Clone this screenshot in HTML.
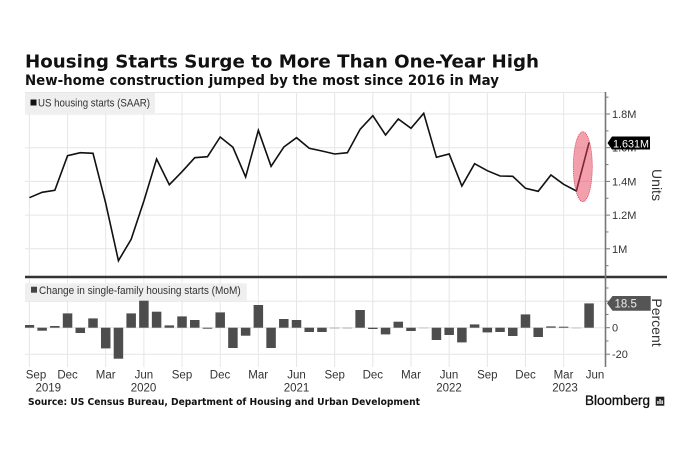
<!DOCTYPE html>
<html><head><meta charset="utf-8"><style>
html,body{margin:0;padding:0;background:#fff;}
svg{display:block;}
</style></head><body>
<svg width="700" height="466" viewBox="0 0 700 466" xmlns="http://www.w3.org/2000/svg">
<rect x="0" y="0" width="700" height="466" fill="#fff"/>
<defs>
<clipPath id="cpTop"><rect x="25" y="92" width="580.5" height="185"/></clipPath>
<clipPath id="cpBot"><rect x="25" y="278" width="580.5" height="90"/></clipPath>
</defs>

<!-- Title -->
<text x="25" y="67.3" font-family="DejaVu Sans, Liberation Sans, sans-serif" font-weight="bold" font-size="18" fill="#111" textLength="514" lengthAdjust="spacingAndGlyphs">Housing Starts Surge to More Than One-Year High</text>
<text x="25" y="85" font-family="DejaVu Sans, Liberation Sans, sans-serif" font-weight="bold" font-size="14" fill="#111" textLength="474" lengthAdjust="spacingAndGlyphs">New-home construction jumped by the most since 2016 in May</text>

<!-- Top panel grid -->
<g stroke="#e6e6e6" stroke-width="1" fill="none">
<line x1="25" y1="92.5" x2="605" y2="92.5"/>
<line x1="25" y1="114" x2="605" y2="114"/>
<line x1="25" y1="147.7" x2="605" y2="147.7"/>
<line x1="25" y1="181.4" x2="605" y2="181.4"/>
<line x1="25" y1="215.1" x2="605" y2="215.1"/>
<line x1="25" y1="248.8" x2="605" y2="248.8"/>
<line x1="29.4" y1="92" x2="29.4" y2="276"/>
<line x1="67.56" y1="92" x2="67.56" y2="276"/>
<line x1="105.72" y1="92" x2="105.72" y2="276"/>
<line x1="143.88" y1="92" x2="143.88" y2="276"/>
<line x1="182.04" y1="92" x2="182.04" y2="276"/>
<line x1="220.2" y1="92" x2="220.2" y2="276"/>
<line x1="258.36" y1="92" x2="258.36" y2="276"/>
<line x1="296.52" y1="92" x2="296.52" y2="276"/>
<line x1="334.68" y1="92" x2="334.68" y2="276"/>
<line x1="372.84" y1="92" x2="372.84" y2="276"/>
<line x1="411" y1="92" x2="411" y2="276"/>
<line x1="449.16" y1="92" x2="449.16" y2="276"/>
<line x1="487.32" y1="92" x2="487.32" y2="276"/>
<line x1="525.48" y1="92" x2="525.48" y2="276"/>
<line x1="563.64" y1="92" x2="563.64" y2="276"/>
<!-- lower panel grid -->
<line x1="25" y1="301.2" x2="605" y2="301.2"/>
<line x1="25" y1="327.7" x2="605" y2="327.7"/>
<line x1="25" y1="354.2" x2="605" y2="354.2"/>
<line x1="29.4" y1="279" x2="29.4" y2="367"/>
<line x1="67.56" y1="279" x2="67.56" y2="367"/>
<line x1="105.72" y1="279" x2="105.72" y2="367"/>
<line x1="143.88" y1="279" x2="143.88" y2="367"/>
<line x1="182.04" y1="279" x2="182.04" y2="367"/>
<line x1="220.2" y1="279" x2="220.2" y2="367"/>
<line x1="258.36" y1="279" x2="258.36" y2="367"/>
<line x1="296.52" y1="279" x2="296.52" y2="367"/>
<line x1="334.68" y1="279" x2="334.68" y2="367"/>
<line x1="372.84" y1="279" x2="372.84" y2="367"/>
<line x1="411" y1="279" x2="411" y2="367"/>
<line x1="449.16" y1="279" x2="449.16" y2="367"/>
<line x1="487.32" y1="279" x2="487.32" y2="367"/>
<line x1="525.48" y1="279" x2="525.48" y2="367"/>
<line x1="563.64" y1="279" x2="563.64" y2="367"/>
</g>

<!-- Top legend -->
<rect x="25" y="93" width="130" height="20" fill="#efefef"/>
<rect x="30.5" y="99.5" width="6" height="6" fill="#111"/>
<text x="38" y="106.5" font-family="Liberation Sans, sans-serif" font-size="11" fill="#333" textLength="112" lengthAdjust="spacingAndGlyphs">US housing starts (SAAR)</text>

<!-- Line series -->
<g clip-path="url(#cpTop)">
<polyline fill="none" stroke="#111" stroke-width="1.6" stroke-linejoin="miter" points="29.4,197.7 42.12,192.3 54.84,190.3 67.56,155.7 80.28,152.7 93,153.3 105.72,203.3 118.44,260.7 131.16,239.3 143.88,201 156.6,159 169.32,184.7 182.04,171.7 194.76,157.7 207.48,156.7 220.2,137 232.92,147.3 245.64,177 258.36,130.3 271.08,166.3 283.8,147 296.52,137.7 309.24,148.3 321.96,151 334.68,154 347.4,152.7 360.12,129.3 372.84,115.7 385.56,135 398.28,119 411,128.3 423.72,113.3 436.44,157.3 449.16,154 461.88,186 474.6,163.7 487.32,170.7 500.04,176 512.76,176.3 525.48,188.3 538.2,191.3 550.92,175 563.64,184.3 576.36,191 589.08,142.5"/>
</g>
<!-- highlight ellipse -->
<ellipse cx="582.8" cy="166.7" rx="9.5" ry="35" fill="#e8405a" fill-opacity="0.5" stroke="#d0304a" stroke-width="0.8" stroke-dasharray="1,1"/>

<!-- Lower legend -->
<rect x="25" y="283.3" width="221.7" height="17.4" fill="#efefef"/>
<rect x="31" y="286.7" width="6" height="6" fill="#444"/>
<text x="39" y="293.8" font-family="Liberation Sans, sans-serif" font-size="11" fill="#333" textLength="201.7" lengthAdjust="spacingAndGlyphs">Change in single-family housing starts (MoM)</text>

<!-- Bars -->
<g fill="#4d4d4d" clip-path="url(#cpBot)">
<rect x="24.65" y="325" width="9.5" height="2.7"/>
<rect x="37.37" y="327.7" width="9.5" height="3"/>
<rect x="50.09" y="326" width="9.5" height="1.7"/>
<rect x="62.81" y="313.4" width="9.5" height="14.3"/>
<rect x="75.53" y="327.7" width="9.5" height="5.3"/>
<rect x="88.25" y="318.4" width="9.5" height="9.3"/>
<rect x="100.97" y="327.7" width="9.5" height="20.7"/>
<rect x="113.69" y="327.7" width="9.5" height="31"/>
<rect x="126.41" y="313.4" width="9.5" height="14.3"/>
<rect x="139.13" y="300.7" width="9.5" height="27"/>
<rect x="151.85" y="311.7" width="9.5" height="16"/>
<rect x="164.57" y="325.4" width="9.5" height="2.3"/>
<rect x="177.29" y="316.4" width="9.5" height="11.3"/>
<rect x="190.01" y="320" width="9.5" height="7.7"/>
<rect x="202.73" y="327.7" width="9.5" height="1"/>
<rect x="215.45" y="312.4" width="9.5" height="15.3"/>
<rect x="228.17" y="327.7" width="9.5" height="20.3"/>
<rect x="240.89" y="327.7" width="9.5" height="8"/>
<rect x="253.61" y="305" width="9.5" height="22.7"/>
<rect x="266.33" y="327.7" width="9.5" height="20.3"/>
<rect x="279.05" y="319" width="9.5" height="8.7"/>
<rect x="291.77" y="320" width="9.5" height="7.7"/>
<rect x="304.49" y="327.7" width="9.5" height="4.3"/>
<rect x="317.21" y="327.7" width="9.5" height="4.3"/>
<rect x="329.93" y="327.7" width="9.5" height="0.7" fill="#999"/>
<rect x="342.65" y="327.7" width="9.5" height="0.7" fill="#999"/>
<rect x="355.37" y="310" width="9.5" height="17.7"/>
<rect x="368.09" y="327.7" width="9.5" height="1.3"/>
<rect x="380.81" y="327.7" width="9.5" height="6.7"/>
<rect x="393.53" y="321.7" width="9.5" height="6"/>
<rect x="406.25" y="327.7" width="9.5" height="3.3"/>
<rect x="418.97" y="327.7" width="9.5" height="0.6" fill="#aaa"/>
<rect x="431.69" y="327.7" width="9.5" height="12.3"/>
<rect x="444.41" y="327.7" width="9.5" height="7.3"/>
<rect x="457.13" y="327.7" width="9.5" height="14.7"/>
<rect x="469.85" y="324.4" width="9.5" height="3.3"/>
<rect x="482.57" y="327.7" width="9.5" height="4.7"/>
<rect x="495.29" y="327.7" width="9.5" height="4.3"/>
<rect x="508.01" y="327.7" width="9.5" height="8.3"/>
<rect x="520.73" y="314.4" width="9.5" height="13.3"/>
<rect x="533.45" y="327.7" width="9.5" height="9.3"/>
<rect x="546.17" y="326.4" width="9.5" height="1.3"/>
<rect x="558.89" y="326.7" width="9.5" height="1"/>
<rect x="571.61" y="327.7" width="9.5" height="0.6" fill="#aaa"/>
<rect x="584.33" y="303.4" width="9.5" height="24.3"/>
</g>

<!-- Separator -->
<line x1="25" y1="277" x2="667" y2="277" stroke="#333" stroke-width="2.6"/>
<!-- Right axis -->
<line x1="605.5" y1="92" x2="605.5" y2="367" stroke="#777" stroke-width="1.6"/>
<g stroke="#777" stroke-width="1">
<line x1="605.5" y1="114" x2="610" y2="114"/>
<line x1="605.5" y1="147.7" x2="610" y2="147.7"/>
<line x1="605.5" y1="181.4" x2="610" y2="181.4"/>
<line x1="605.5" y1="215.1" x2="610" y2="215.1"/>
<line x1="605.5" y1="248.8" x2="610" y2="248.8"/>
<line x1="605.5" y1="97.15" x2="608.5" y2="97.15"/>
<line x1="605.5" y1="130.85" x2="608.5" y2="130.85"/>
<line x1="605.5" y1="164.55" x2="608.5" y2="164.55"/>
<line x1="605.5" y1="198.25" x2="608.5" y2="198.25"/>
<line x1="605.5" y1="231.95" x2="608.5" y2="231.95"/>
<line x1="605.5" y1="265.65" x2="608.5" y2="265.65"/>
<line x1="605.5" y1="301.2" x2="610" y2="301.2"/>
<line x1="605.5" y1="327.7" x2="610" y2="327.7"/>
<line x1="605.5" y1="354.2" x2="610" y2="354.2"/>
<line x1="605.5" y1="288" x2="608.5" y2="288"/>
<line x1="605.5" y1="314.45" x2="608.5" y2="314.45"/>
<line x1="605.5" y1="340.95" x2="608.5" y2="340.95"/>
</g>
<g font-family="Liberation Sans, sans-serif" font-size="11" fill="#333">
<text x="612" y="118">1.8M</text>
<text x="612" y="151.7">1.6M</text>
<text x="612" y="185.4">1.4M</text>
<text x="612" y="219.1">1.2M</text>
<text x="612" y="252.8">1M</text>
<text x="612" y="331.7">0</text>
<text x="612" y="358.2">-20</text>
</g>
<!-- value labels -->
<polygon points="607.5,143 612,136.5 650,136.5 650,149.5 612,149.5" fill="#000"/>
<text x="613" y="147.3" font-family="Liberation Sans, sans-serif" font-size="11" fill="#fff" textLength="36" lengthAdjust="spacingAndGlyphs">1.631M</text>
<polygon points="607,303.3 612.5,296 650.7,296 650.7,310.7 612.5,310.7" fill="#555"/>
<text x="614.5" y="307.6" font-family="Liberation Sans, sans-serif" font-size="11.5" fill="#eee">18.5</text>

<!-- axis titles -->
<text transform="translate(657,185) rotate(90)" text-anchor="middle" dominant-baseline="central" font-family="Liberation Sans, sans-serif" font-size="14" fill="#333">Units</text>
<text transform="translate(657,322.5) rotate(90)" text-anchor="middle" dominant-baseline="central" font-family="Liberation Sans, sans-serif" font-size="14" fill="#333">Percent</text>

<!-- x labels -->
<g font-family="Liberation Sans, sans-serif" font-size="11.5" fill="#333" text-anchor="middle">
<text x="36" y="378.5">Sep</text>
<text x="48.3" y="391.7">2019</text>
<text x="67.6" y="378.5">Dec</text>
<text x="105.7" y="378.5">Mar</text>
<text x="143.9" y="378.5">Jun</text>
<text x="143.5" y="391.7">2020</text>
<text x="182" y="378.5">Sep</text>
<text x="220" y="378.5">Dec</text>
<text x="258.2" y="378.5">Mar</text>
<text x="296.5" y="378.5">Jun</text>
<text x="296.5" y="391.7">2021</text>
<text x="334.7" y="378.5">Sep</text>
<text x="372.8" y="378.5">Dec</text>
<text x="411" y="378.5">Mar</text>
<text x="449" y="378.5">Jun</text>
<text x="449" y="391.7">2022</text>
<text x="487.3" y="378.5">Sep</text>
<text x="525.5" y="378.5">Dec</text>
<text x="563.5" y="378.5">Mar</text>
<text x="565" y="391.7">2023</text>
<text x="595" y="378.5">Jun</text>
</g>

<!-- Source -->
<text x="28" y="405" font-family="DejaVu Sans, Liberation Sans, sans-serif" font-weight="bold" font-size="10" fill="#111" textLength="392" lengthAdjust="spacingAndGlyphs">Source: US Census Bureau, Department of Housing and Urban Development</text>

<!-- Bloomberg logo -->
<text x="585" y="405" font-family="Liberation Sans, sans-serif" font-size="13.5" fill="#111" stroke="#111" stroke-width="0.35" textLength="65" lengthAdjust="spacingAndGlyphs">Bloomberg</text>
<rect x="655.7" y="396.7" width="8.6" height="9" fill="#222"/>
<rect x="657.3" y="401" width="1.3" height="3" fill="#fff"/>
<rect x="659.4" y="399" width="1.3" height="5" fill="#fff"/>
<rect x="661.5" y="400.3" width="1.3" height="3.7" fill="#fff"/>
</svg>
</body></html>
